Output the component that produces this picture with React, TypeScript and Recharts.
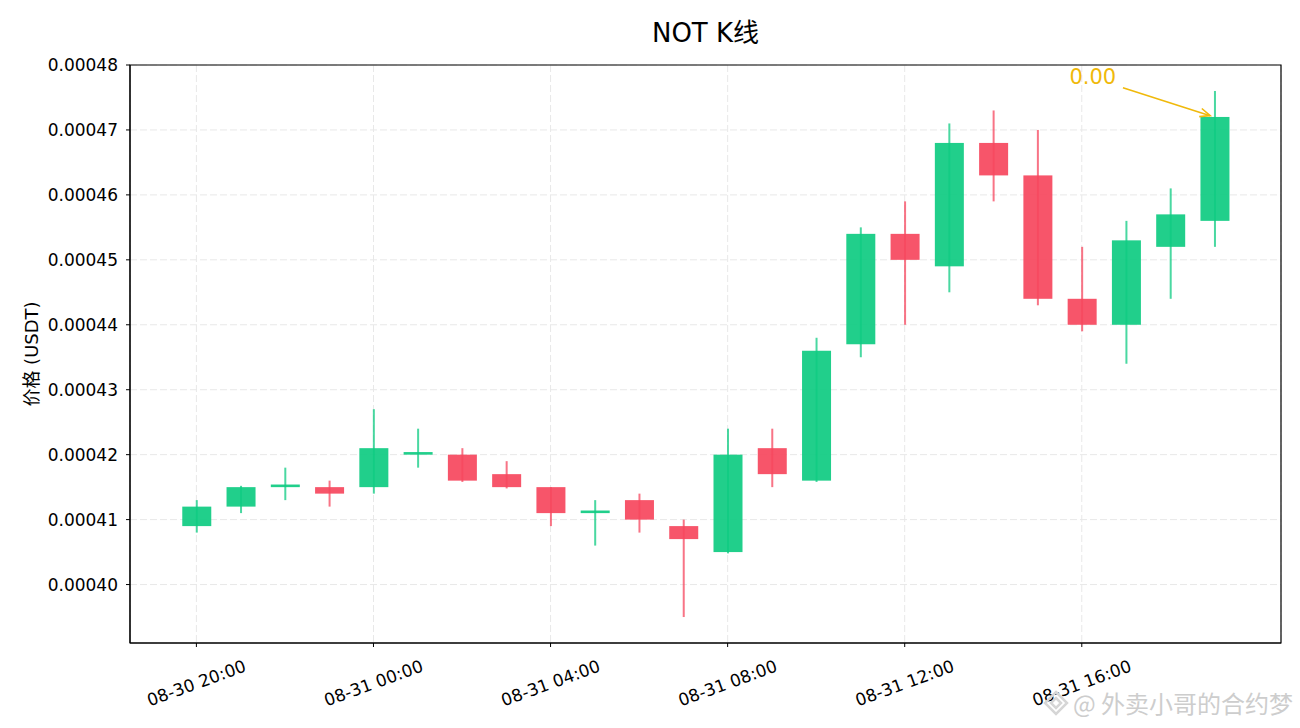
import React from 'react';
import {
  ComposedChart,
  Bar,
  XAxis,
  YAxis,
  CartesianGrid,
  ReferenceArea,
  ReferenceLine,
  ReferenceDot,
} from 'recharts';

// ---------- data ----------
const times = [
  '08-30 20:00', '08-30 21:00', '08-30 22:00', '08-30 23:00',
  '08-31 00:00', '08-31 01:00', '08-31 02:00', '08-31 03:00',
  '08-31 04:00', '08-31 05:00', '08-31 06:00', '08-31 07:00',
  '08-31 08:00', '08-31 09:00', '08-31 10:00', '08-31 11:00',
  '08-31 12:00', '08-31 13:00', '08-31 14:00', '08-31 15:00',
  '08-31 16:00', '08-31 17:00', '08-31 18:00', '08-31 19:00',
];
const opens = [
  0.000409, 0.000412, 0.000415, 0.000415, 0.000415, 0.00042, 0.00042, 0.000417,
  0.000415, 0.000411, 0.000413, 0.000409, 0.000405, 0.000421, 0.000416, 0.000437,
  0.000454, 0.000449, 0.000468, 0.000463, 0.000444, 0.00044, 0.000452, 0.000456,
];
const closes = [
  0.000412, 0.000415, 0.0004154, 0.000414, 0.000421, 0.0004204, 0.000416, 0.000415,
  0.000411, 0.0004114, 0.00041, 0.000407, 0.00042, 0.000417, 0.000436, 0.000454,
  0.00045, 0.000468, 0.000463, 0.000444, 0.00044, 0.000453, 0.000457, 0.000472,
];
const highs = [
  0.000413, 0.0004152, 0.000418, 0.000416, 0.000427, 0.000424, 0.000421, 0.000419,
  0.000415, 0.000413, 0.000414, 0.00041, 0.000424, 0.000424, 0.000438, 0.000455,
  0.000459, 0.000471, 0.000473, 0.00047, 0.000452, 0.000456, 0.000461, 0.000476,
];
const lows = [
  0.000408, 0.000411, 0.000413, 0.000412, 0.000414, 0.000418, 0.0004158, 0.0004148,
  0.000409, 0.000406, 0.000408, 0.000395, 0.0004048, 0.000415, 0.0004158, 0.000435,
  0.00044, 0.000445, 0.000459, 0.000443, 0.000439, 0.000434, 0.000444, 0.000452,
];
const xTickIndices = [0, 4, 8, 12, 16, 20];
const yTicks = [0.0004, 0.00041, 0.00042, 0.00043, 0.00044, 0.00045, 0.00046, 0.00047, 0.00048];
const xDomain = [-1.5, 24.5];
const yDomain = [0.000391, 0.00048];
const annotationText = '0.00';
const annotationTextPos = { x: 20.25, y: 0.0004782 };
const annotationArrowFrom = { x: 20.93, y: 0.0004765 };
const annotationArrowTo = { x: 22.9, y: 0.0004722 };

const data = times.map((t, i) => ({
  idx: i,
  time: t,
  open: opens[i],
  close: closes[i],
  high: highs[i],
  low: lows[i],
}));

// ---------- styles ----------
const UP = '#0ecb81';
const DOWN = '#f6465d';
const FONT = '"DejaVu Sans", "Noto Sans CJK SC", sans-serif';
const ANNO = '#f0b90b';

const Candle = (props: any) => {
  const { x, y, width, height, payload } = props;
  if (x == null || y == null || !payload) return null;
  const top = Math.min(y, y + height);
  const h = Math.abs(height);
  const { open, close, high, low } = payload;
  const per = h / (high - low);
  const yOf = (v: number) => top + (high - v) * per;
  const cx = x + width / 2;
  const up = close >= open;
  const color = up ? UP : DOWN;
  const bodyTop = yOf(Math.max(open, close));
  const bodyBottom = yOf(Math.min(open, close));
  return (
    <g>
      <rect x={cx - 1} y={top} width={2} height={h} fill={color} fillOpacity={0.75} />
      <rect
        x={x}
        y={bodyTop}
        width={width}
        height={Math.max(bodyBottom - bodyTop, 1)}
        fill={color}
        fillOpacity={0.92}
      />
    </g>
  );
};

const XTick = (props: any) => {
  const { x, y, payload } = props;
  const label = times[payload.value] ?? '';
  const cy = y + 34;
  return (
    <text
      x={x}
      y={cy}
      textAnchor="middle"
      dominantBaseline="central"
      transform={`rotate(-20, ${x}, ${cy})`}
      fontSize={17}
      fontFamily={FONT}
      fill="#000"
    >
      {label}
    </text>
  );
};

const YLabel = (props: any) => {
  const vb = props.viewBox || {};
  const cx = (vb.x ?? 0) + 31;
  const cy = (vb.y ?? 0) + (vb.height ?? 0) / 2;
  return (
    <text
      x={cx}
      y={cy}
      textAnchor="middle"
      dominantBaseline="central"
      transform={`rotate(-90, ${cx}, ${cy})`}
      fontSize={18}
      fontFamily={FONT}
      fill="#000"
    >
      价格 (USDT)
    </text>
  );
};

const Arrow = (props: any) => {
  const { x1, y1, x2, y2 } = props;
  if ([x1, y1, x2, y2].some((v) => v == null || isNaN(v))) return null;
  const ang = Math.atan2(y2 - y1, x2 - x1);
  const L = 11;
  const spread = 0.4;
  const ax = x2 - L * Math.cos(ang - spread);
  const ay = y2 - L * Math.sin(ang - spread);
  const bx = x2 - L * Math.cos(ang + spread);
  const by = y2 - L * Math.sin(ang + spread);
  return (
    <g stroke={ANNO} strokeWidth={1.6} fill="none">
      <line x1={x1} y1={y1} x2={x2} y2={y2} />
      <polyline points={`${ax},${ay} ${x2},${y2} ${bx},${by}`} />
    </g>
  );
};

const AnnoText = (props: any) => {
  const { cx, cy } = props;
  if (cx == null || cy == null) return null;
  return (
    <text
      x={cx}
      y={cy}
      textAnchor="middle"
      dominantBaseline="central"
      fontSize={21}
      fontFamily={FONT}
      fill={ANNO}
    >
      {annotationText}
    </text>
  );
};

export default function App() {
  return (
    <div
      style={{
        position: 'absolute',
        left: 0,
        top: 0,
        width: 1300,
        height: 728,
        background: '#fff',
        fontFamily: FONT,
        overflow: 'hidden',
      }}
    >
      <div
        style={{
          position: 'absolute',
          left: 130,
          width: 1151,
          top: 18,
          textAlign: 'center',
          fontSize: 26,
          lineHeight: '30px',
          color: '#000',
        }}
      >
        NOT K线
      </div>
      <ComposedChart
        width={1300}
        height={728}
        data={data}
        margin={{ top: 65, right: 19, left: 0, bottom: 0 }}
      >
        <CartesianGrid stroke="#e8e8e8" strokeDasharray="7 3" strokeWidth={1} />
        <XAxis
          dataKey="idx"
          type="number"
          domain={xDomain}
          ticks={xTickIndices}
          allowDataOverflow
          height={85}
          tickSize={4}
          tickMargin={2}
          tick={<XTick />}
          axisLine={{ stroke: '#000' }}
          tickLine={{ stroke: '#000' }}
          interval={0}
        />
        <YAxis
          type="number"
          domain={yDomain}
          ticks={yTicks}
          allowDataOverflow
          width={130}
          tickSize={4}
          tickMargin={8}
          tickFormatter={(v: number) => v.toFixed(5)}
          tick={{ fill: '#000', fontSize: 17, fontFamily: FONT }}
          axisLine={{ stroke: '#000' }}
          tickLine={{ stroke: '#000' }}
          interval={0}
          label={<YLabel />}
        />
        <Bar
          dataKey={(d: any) => [d.low, d.high]}
          barSize={29}
          shape={<Candle />}
          isAnimationActive={false}
        />
        <ReferenceArea
          x1={xDomain[0]}
          x2={xDomain[1]}
          y1={yDomain[0]}
          y2={yDomain[1]}
          fill="none"
          fillOpacity={0}
          stroke="#000"
          strokeWidth={1.2}
          ifOverflow="visible"
        />
        <ReferenceLine
          segment={[annotationArrowFrom, annotationArrowTo]}
          shape={<Arrow />}
          ifOverflow="visible"
        />
        <ReferenceDot
          x={annotationTextPos.x}
          y={annotationTextPos.y}
          r={0}
          shape={<AnnoText />}
          ifOverflow="visible"
        />
      </ComposedChart>
      <div
        style={{
          position: 'absolute',
          right: 7,
          top: 688,
          display: 'flex',
          alignItems: 'center',
          gap: 4,
          fontSize: 24,
          lineHeight: '30px',
          color: '#cdcdcd',
          fontFamily: '"Noto Sans CJK SC", sans-serif',
          whiteSpace: 'nowrap',
        }}
      >
        <svg width={26} height={26}>
          <g fill="none" stroke="#d6d6d6" strokeWidth={2.5}>
            <path d="M13 2 L24 13 L13 24 L2 13 Z" />
            <path d="M13 8 L18 13 L13 18 L8 13 Z" />
          </g>
        </svg>
        <span>@ 外卖小哥的合约梦</span>
      </div>
    </div>
  );
}
